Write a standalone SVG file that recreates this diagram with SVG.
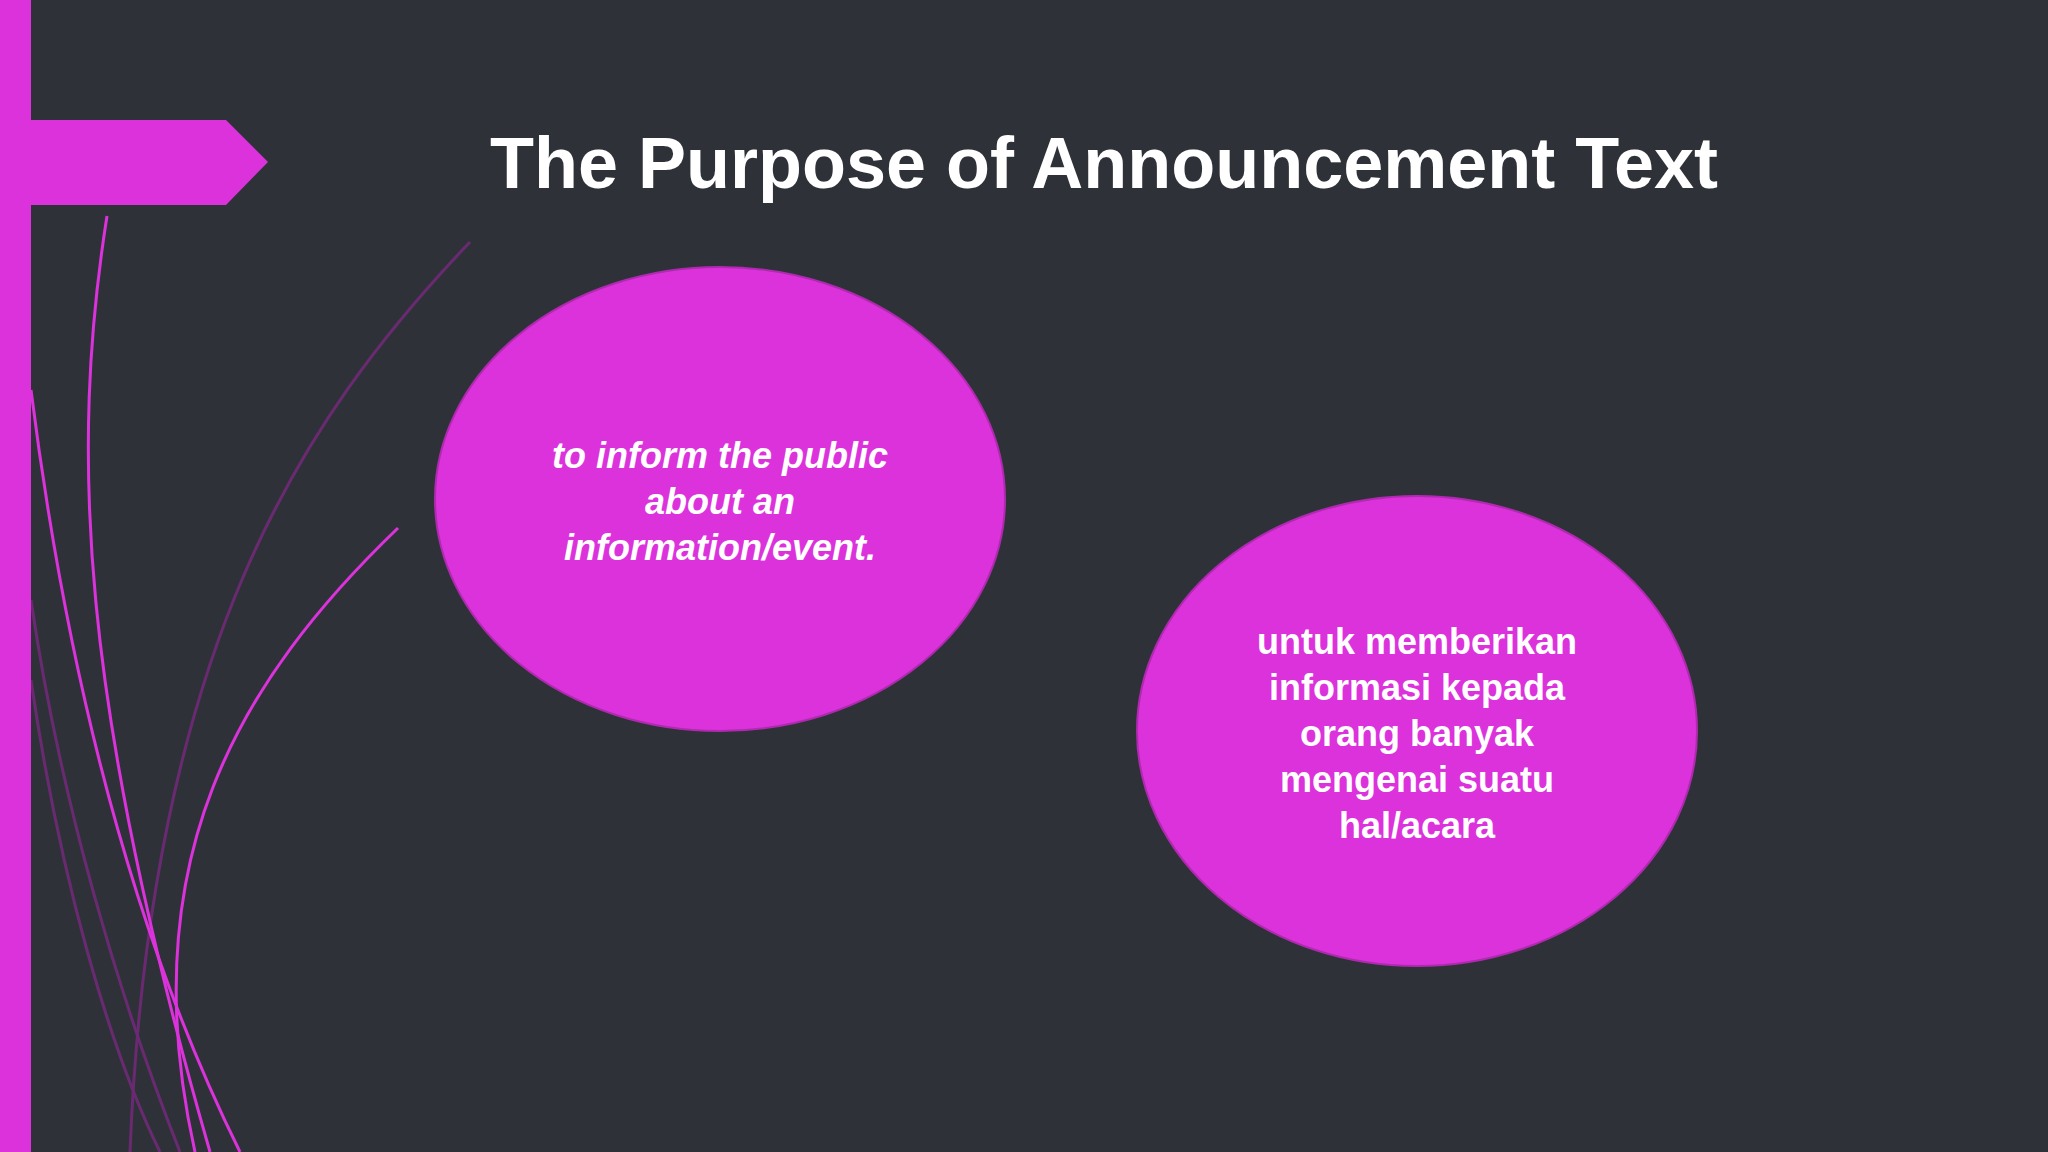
<svg xmlns="http://www.w3.org/2000/svg" width="2048" height="1152" viewBox="0 0 2048 1152">
<style>
.bright{fill:none;stroke:#dc32dc;stroke-width:3}
.dark{fill:none;stroke:#6a2a72;stroke-width:3}
.el{fill:#dc32dc;stroke:#b02ab0;stroke-width:2}
.t{font-family:"Liberation Sans",Arial,sans-serif;font-weight:bold;fill:#fff;text-anchor:middle}
</style>
<rect width="2048" height="1152" fill="#2e3238"/>
<g id="decor">
<path class="dark" d="M470 242 C300 420 150 650 130 1152"/>
<path class="dark" d="M31 600 C60 800 120 1000 180 1152"/>
<path class="dark" d="M31 680 C60 880 110 1050 160 1152"/>
<path class="bright" d="M107 216 C70 450 80 700 210 1152"/>
<path class="bright" d="M31 390 C70 700 140 950 240 1152"/>
<path class="bright" d="M398 528 C240 680 130 860 195 1152"/>
<rect x="0" y="0" width="31" height="1152" fill="#dc32dc"/>
<polygon points="31,120 226,120 268,162 226,205 31,205" fill="#dc32dc"/>
</g>
<text class="t" x="1104" y="188" font-size="72">The Purpose of Announcement Text</text>
<g id="node1">
<ellipse class="el" cx="720" cy="499" rx="285" ry="232"/>
<text class="t" font-size="36" font-style="italic"><tspan x="720" y="468">to inform the public</tspan><tspan x="720" y="514">about an</tspan><tspan x="720" y="560">information/event.</tspan></text>
</g>
<g id="node2">
<ellipse class="el" cx="1417" cy="731" rx="280" ry="235"/>
<text class="t" font-size="36"><tspan x="1417" y="654">untuk memberikan</tspan><tspan x="1417" y="700">informasi kepada</tspan><tspan x="1417" y="746">orang banyak</tspan><tspan x="1417" y="792">mengenai suatu</tspan><tspan x="1417" y="838">hal/acara</tspan></text>
</g>
<g id="connectors"/>
</svg>
